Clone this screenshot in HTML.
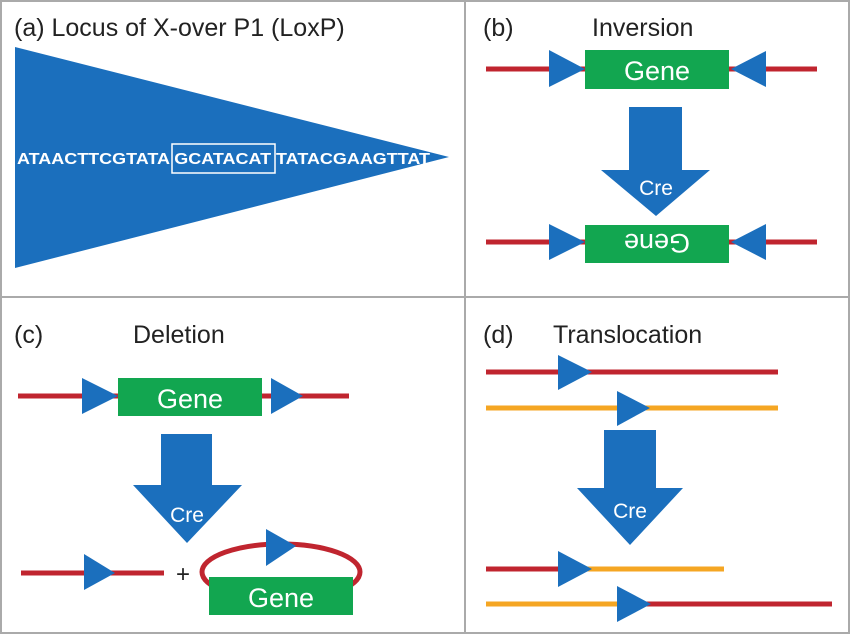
<!DOCTYPE html>
<html><head><meta charset="utf-8"><style>
html,body{margin:0;padding:0;background:#fff}
svg{display:block}
text{font-family:"Liberation Sans",sans-serif}
</style></head><body>
<svg width="850" height="634" viewBox="0 0 850 634" xmlns="http://www.w3.org/2000/svg">
<rect x="1" y="1" width="848" height="632" fill="#fff" stroke="#aaa" stroke-width="2"/>
<line x1="465" y1="0" x2="465" y2="634" stroke="#aaa" stroke-width="2"/>
<line x1="0" y1="297" x2="850" y2="297" stroke="#aaa" stroke-width="2"/>

<!-- (a) -->
<text x="14" y="36" font-size="25" fill="#222">(a) Locus of X-over P1 (LoxP)</text>
<polygon points="15,47 15,268 449,157" fill="#1b6fbd"/>
<text x="17" y="164" font-size="16" font-weight="bold" fill="#fff" textLength="413" lengthAdjust="spacingAndGlyphs">ATAACTTCGTATA GCATACAT TATACGAAGTTAT</text>
<rect x="172" y="144" width="103" height="29" fill="none" stroke="#fff" stroke-width="1.5"/>

<!-- (b) -->
<text x="483" y="36" font-size="25" fill="#222">(b)</text>
<text x="592" y="36" font-size="25" fill="#222">Inversion</text>
<line x1="486" y1="69" x2="817" y2="69" stroke="#c0252f" stroke-width="5"/>
<polygon points="549,50 549,87 585,69" fill="#1b6fbd"/>
<rect x="585" y="50" width="144" height="39" fill="#12a650"/>
<text x="657" y="80" font-size="27" fill="#fff" text-anchor="middle">Gene</text>
<polygon points="766,51 766,87 731,69" fill="#1b6fbd"/>
<polygon points="629,107 682,107 682,170 710,170 656,216 601,170 629,170" fill="#1b6fbd"/>
<text x="656" y="195" font-size="21" fill="#fff" text-anchor="middle">Cre</text>
<line x1="486" y1="242" x2="817" y2="242" stroke="#c0252f" stroke-width="5"/>
<polygon points="549,224 549,260 585,242" fill="#1b6fbd"/>
<rect x="585" y="225" width="144" height="38" fill="#12a650"/>
<text x="657" y="254" font-size="27" fill="#fff" text-anchor="middle" transform="rotate(180 657 244)">Gene</text>
<polygon points="766,224 766,260 731,242" fill="#1b6fbd"/>

<!-- (c) -->
<text x="14" y="343" font-size="25" fill="#222">(c)</text>
<text x="133" y="343" font-size="25" fill="#222">Deletion</text>
<line x1="18" y1="396" x2="349" y2="396" stroke="#c0252f" stroke-width="5"/>
<polygon points="82,378 82,414 118,396" fill="#1b6fbd"/>
<rect x="118" y="378" width="144" height="38" fill="#12a650"/>
<text x="190" y="408" font-size="27" fill="#fff" text-anchor="middle">Gene</text>
<polygon points="271,378 271,414 303,396" fill="#1b6fbd"/>
<polygon points="161,434 212,434 212,485 242,485 187,543 133,485 161,485" fill="#1b6fbd"/>
<text x="187" y="522" font-size="21" fill="#fff" text-anchor="middle">Cre</text>
<line x1="21" y1="573" x2="164" y2="573" stroke="#c0252f" stroke-width="5"/>
<polygon points="84,554 84,590 115,573" fill="#1b6fbd"/>
<text x="183" y="582" font-size="24" fill="#222" text-anchor="middle">+</text>
<ellipse cx="281" cy="572" rx="79" ry="28" fill="none" stroke="#c0252f" stroke-width="5"/>
<rect x="209" y="577" width="144" height="38" fill="#12a650"/>
<text x="281" y="607" font-size="27" fill="#fff" text-anchor="middle">Gene</text>
<polygon points="266,529 266,566 296,546" fill="#1b6fbd"/>

<!-- (d) -->
<text x="483" y="343" font-size="25" fill="#222">(d)</text>
<text x="553" y="343" font-size="25" fill="#222">Translocation</text>
<line x1="486" y1="372" x2="778" y2="372" stroke="#c0252f" stroke-width="5"/>
<polygon points="558,355 558,390 592,372" fill="#1b6fbd"/>
<line x1="486" y1="408" x2="778" y2="408" stroke="#f5a623" stroke-width="5"/>
<polygon points="617,391 617,426 650,408" fill="#1b6fbd"/>
<polygon points="604,430 656,430 656,488 683,488 630,545 577,488 604,488" fill="#1b6fbd"/>
<text x="630" y="518" font-size="21" fill="#fff" text-anchor="middle">Cre</text>
<line x1="486" y1="569" x2="575" y2="569" stroke="#c0252f" stroke-width="5"/>
<line x1="575" y1="569" x2="724" y2="569" stroke="#f5a623" stroke-width="5"/>
<polygon points="558,551 558,587 592,569" fill="#1b6fbd"/>
<line x1="486" y1="604" x2="634" y2="604" stroke="#f5a623" stroke-width="5"/>
<line x1="634" y1="604" x2="832" y2="604" stroke="#c0252f" stroke-width="5"/>
<polygon points="617,586 617,622 651,604" fill="#1b6fbd"/>
</svg>
</body></html>
